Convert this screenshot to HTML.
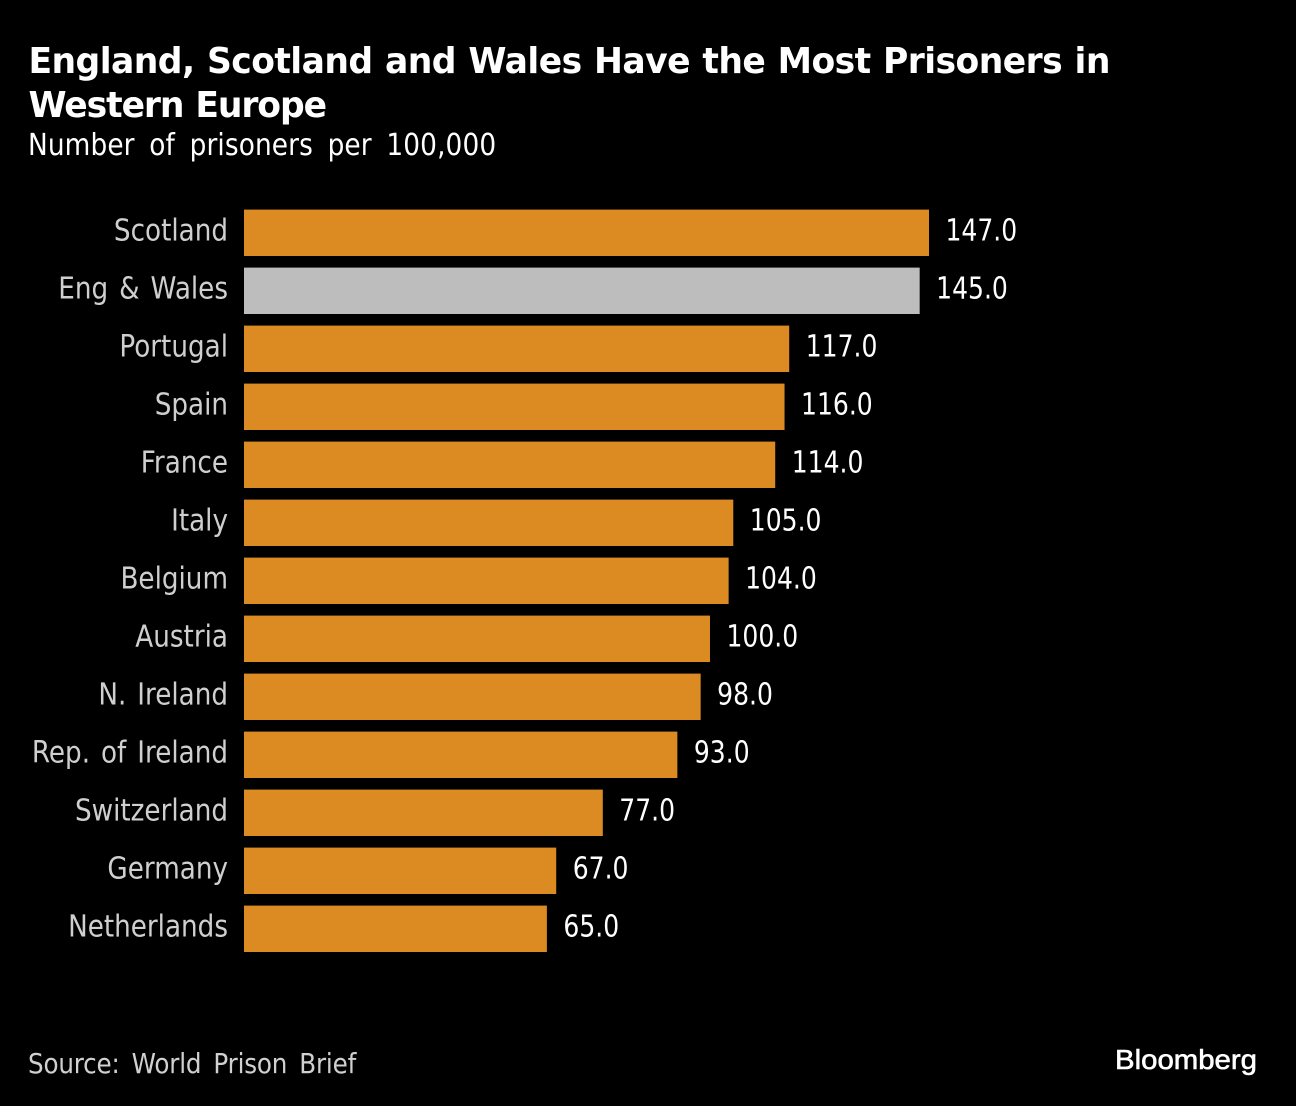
<!DOCTYPE html>
<html lang="en">
<head>
<meta charset="utf-8">
<title>England, Scotland and Wales Have the Most Prisoners in Western Europe</title>
<style>
html,body{margin:0;padding:0;background:#000;}
body{width:1296px;height:1106px;overflow:hidden;}
svg{display:block;font-family:"DejaVu Sans",sans-serif;}
</style>
</head>
<body>
<svg id="chart" width="1296" height="1106" viewBox="0 0 1296 1106" xmlns="http://www.w3.org/2000/svg">
  <rect x="0" y="0" width="1296" height="1106" fill="#000"/>
  <text transform="translate(28.5,73) scale(0.96,1)" font-size="36" font-weight="700" fill="#fff" style="word-spacing:1px" textLength="1127" lengthAdjust="spacing">England, Scotland and Wales Have the Most Prisoners in</text>
  <text transform="translate(28.5,117) scale(0.96,1)" font-size="36" font-weight="700" fill="#fff" style="word-spacing:1px" textLength="311" lengthAdjust="spacing">Western Europe</text>
  <text transform="translate(28,155) scale(0.88,1)" font-size="30" fill="#fff" style="word-spacing:7px" textLength="532" lengthAdjust="spacing">Number of prisoners per 100,000</text>
  <g id="bars"></g>
  <text transform="translate(28,1073) scale(0.88,1)" font-size="28" fill="#d0d0d0" style="word-spacing:5px" textLength="373" lengthAdjust="spacing">Source: World Prison Brief</text>
  <text x="1115" y="1069" font-family="Liberation Sans, sans-serif" font-size="28" fill="#fff" stroke="#fff" stroke-width="0.6" textLength="142" lengthAdjust="spacingAndGlyphs">Bloomberg</text>
</svg>
<script>
const countries = ["Scotland","Eng & Wales","Portugal","Spain","France","Italy","Belgium","Austria","N. Ireland","Rep. of Ireland","Switzerland","Germany","Netherlands"];
const prisonerRates = [147,145,117,116,114,105,104,100,98,93,77,67,65];
const highlightedCountries = ["Eng & Wales"];

const SVG_NS = "http://www.w3.org/2000/svg";
const barsGroup = document.getElementById("bars");
const xOrigin = 244;
const pixelsPerUnit = 685 / 147;
const rowTop = 209.6;
const rowStep = 58;
const barHeight = 46.4;

function xScale(value) {
  return xOrigin + value * pixelsPerUnit;
}
function yScale(index) {
  return rowTop + index * rowStep;
}
function slug(text) {
  return text.toLowerCase().replace(/[^a-z0-9]+/g, "-").replace(/^-|-$/g, "");
}

countries.forEach(function (country, i) {
  const value = prisonerRates[i];
  const key = slug(country);
  const baseline = yScale(i) + 31;

  const label = document.createElementNS(SVG_NS, "text");
  
  
  label.setAttribute("transform", "translate(228," + baseline + ") scale(0.875,1)");
  label.setAttribute("text-anchor", "end");
  label.setAttribute("font-size", "30");
  label.setAttribute("fill", "#cfcfcf");
  label.style.wordSpacing = "3px";
  label.textContent = country;
  barsGroup.appendChild(label);

  const bar = document.createElementNS(SVG_NS, "rect");
  
  
  bar.setAttribute("x", xOrigin);
  bar.setAttribute("y", yScale(i));
  bar.setAttribute("width", xScale(value) - xOrigin);
  bar.setAttribute("height", barHeight);
  bar.setAttribute("fill", highlightedCountries.includes(country) ? "#bdbdbd" : "#dc8a22");
  barsGroup.appendChild(bar);

  const valueLabel = document.createElementNS(SVG_NS, "text");
  
  
  valueLabel.setAttribute("transform", "translate(" + (xScale(value) + 16.5) + "," + baseline + ") scale(0.835,1)");
  valueLabel.setAttribute("font-size", "30");
  valueLabel.setAttribute("fill", "#fff");
  valueLabel.textContent = value.toFixed(1);
  barsGroup.appendChild(valueLabel);
});
</script>
</body>
</html>
